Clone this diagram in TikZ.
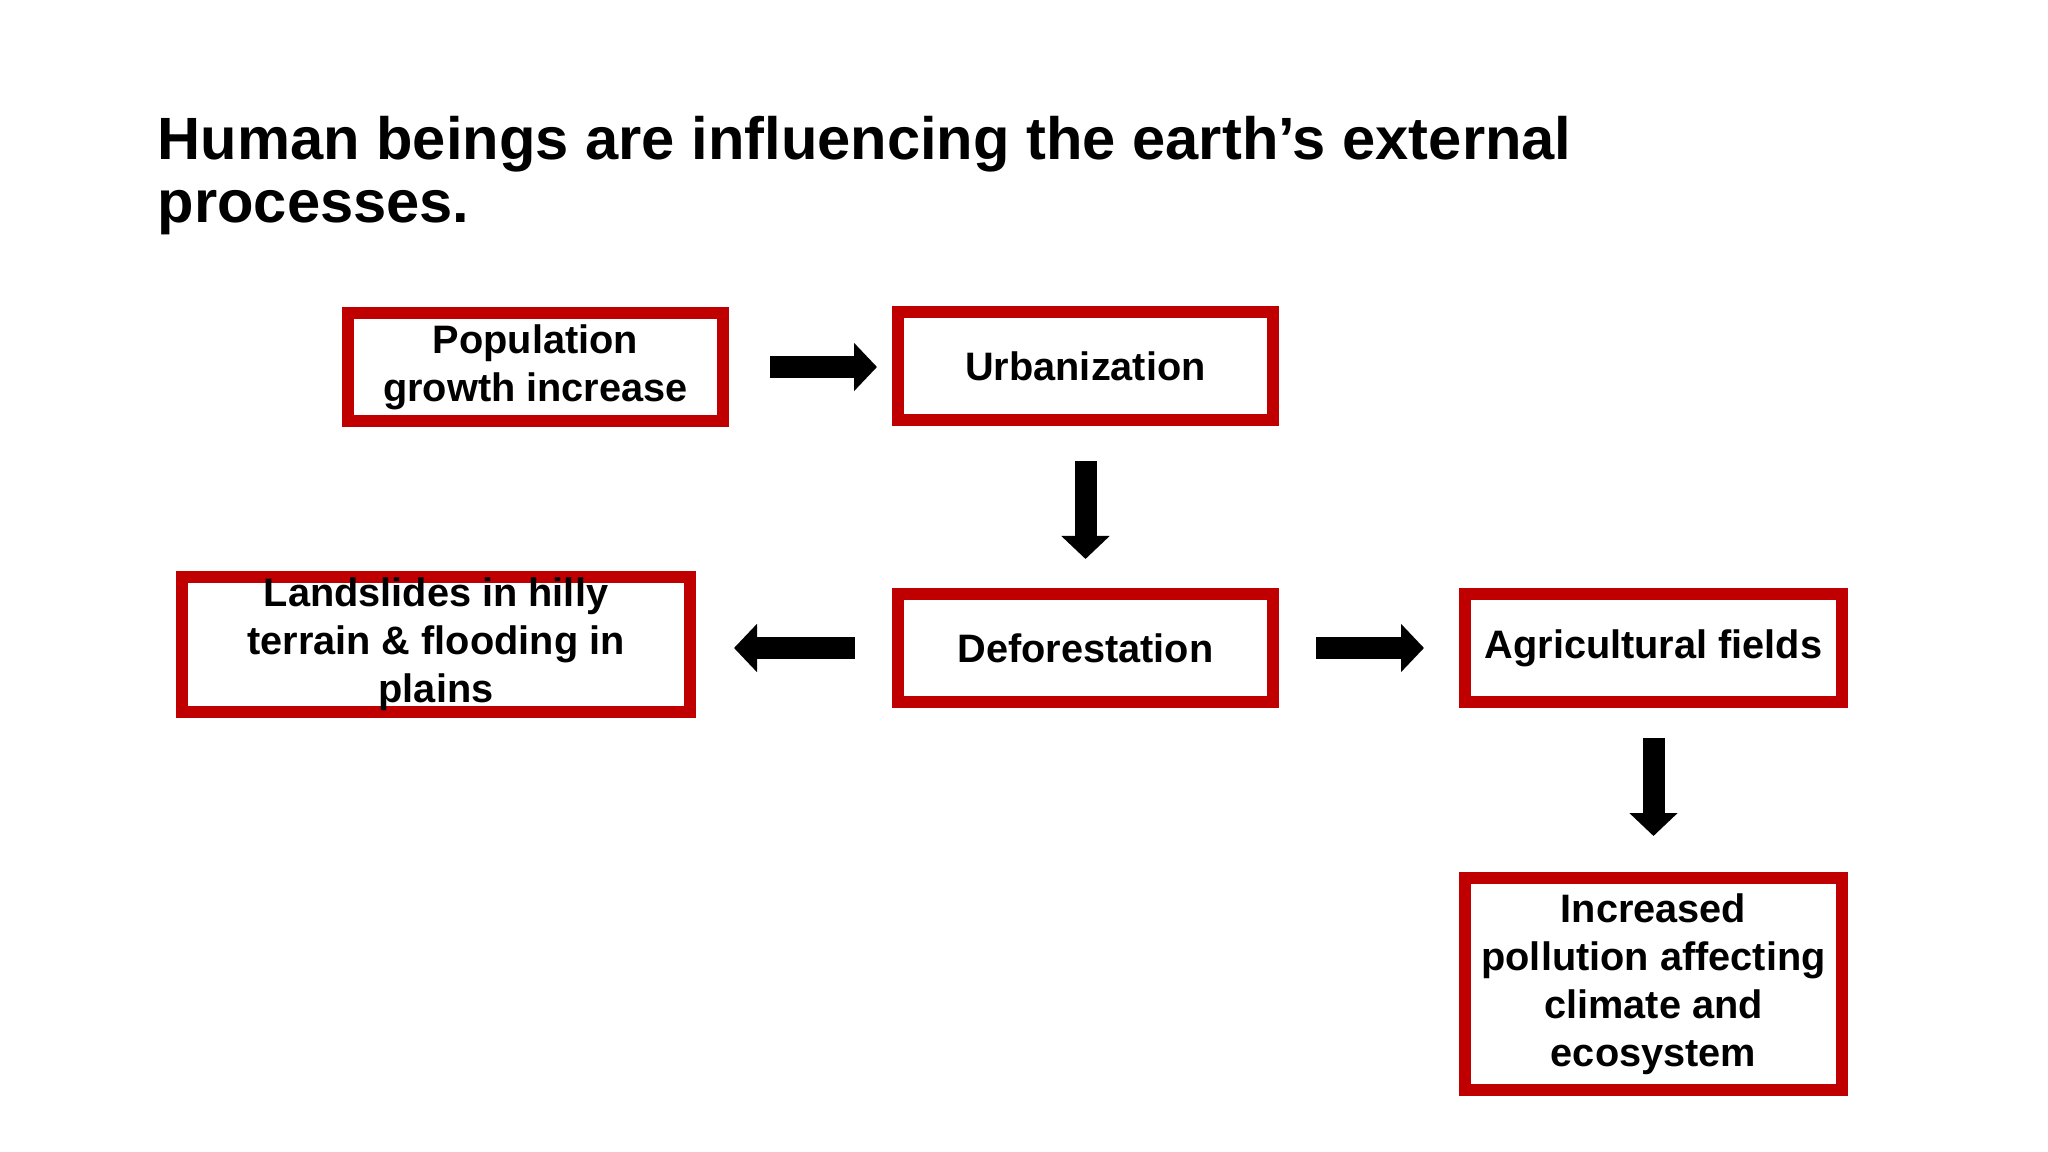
\documentclass[tikz,border=0pt]{standalone}
\usepackage{fontspec}
\setmainfont{Liberation Sans}
\usepackage{tikz}
\usetikzlibrary{arrows.meta, positioning}
\definecolor{boxred}{HTML}{C00000}
\tikzstyle{redbox} = [draw=boxred, line width=0.12cm, fill=white, inner sep=0pt, align=center, font=\fontsize{11.3pt}{13.66pt}\selectfont\bfseries]
\tikzstyle{fatarrow} = [draw, -{Triangle[length=0.23cm,width=0.47cm]}, line width=0.22cm]

\begin{document}
\begin{tikzpicture}

\useasboundingbox[fill=white] (0,0) rectangle (20.48,-11.52);

\node [anchor=base west, align=left, inner sep=0pt, font=\fontsize{16.98pt}{18.2pt}\selectfont\bfseries]
  (title) at (1.57,-2.23) {Human beings are influencing the earth’s external\\processes.};

\node [redbox, minimum width=3.75cm, minimum height=1.08cm] (pop) at (5.355,-3.67) {Population\\growth increase};
\node [redbox, minimum width=3.75cm, minimum height=1.08cm] (urb) at (10.855,-3.66) {Urbanization};
\node [redbox, minimum width=3.75cm, minimum height=1.08cm] (defo) at (10.855,-6.48) {Deforestation};
\node [redbox, minimum width=5.08cm, minimum height=1.35cm, inner ysep=-5mm] (land) at (4.36,-6.445) {Landslides in hilly\\terrain \& flooding in\\plains};
\node [redbox, minimum width=3.77cm, minimum height=1.08cm] (agri) at (16.535,-6.48) {Agricultural fields};
\node [redbox, minimum width=3.77cm, minimum height=2.12cm] (incr) at (16.535,-9.84) {Increased\\pollution affecting\\climate and\\ecosystem};

\draw[fatarrow, shorten <=0.41cm, shorten >=0.15cm] (pop.east) -- (pop.east -| urb.west);
\draw[fatarrow, shorten <=0.35cm, shorten >=0.29cm] (urb.south) -- (defo.north);
\draw[fatarrow, shorten <=0.37cm, shorten >=0.38cm] (defo.west) -- (defo.west -| land.east);
\draw[fatarrow, shorten <=0.37cm, shorten >=0.35cm] (defo.east) -- (agri.west);
\draw[fatarrow, shorten <=0.30cm, shorten >=0.36cm] (agri.south) -- (incr.north);

\end{tikzpicture}
\end{document}
